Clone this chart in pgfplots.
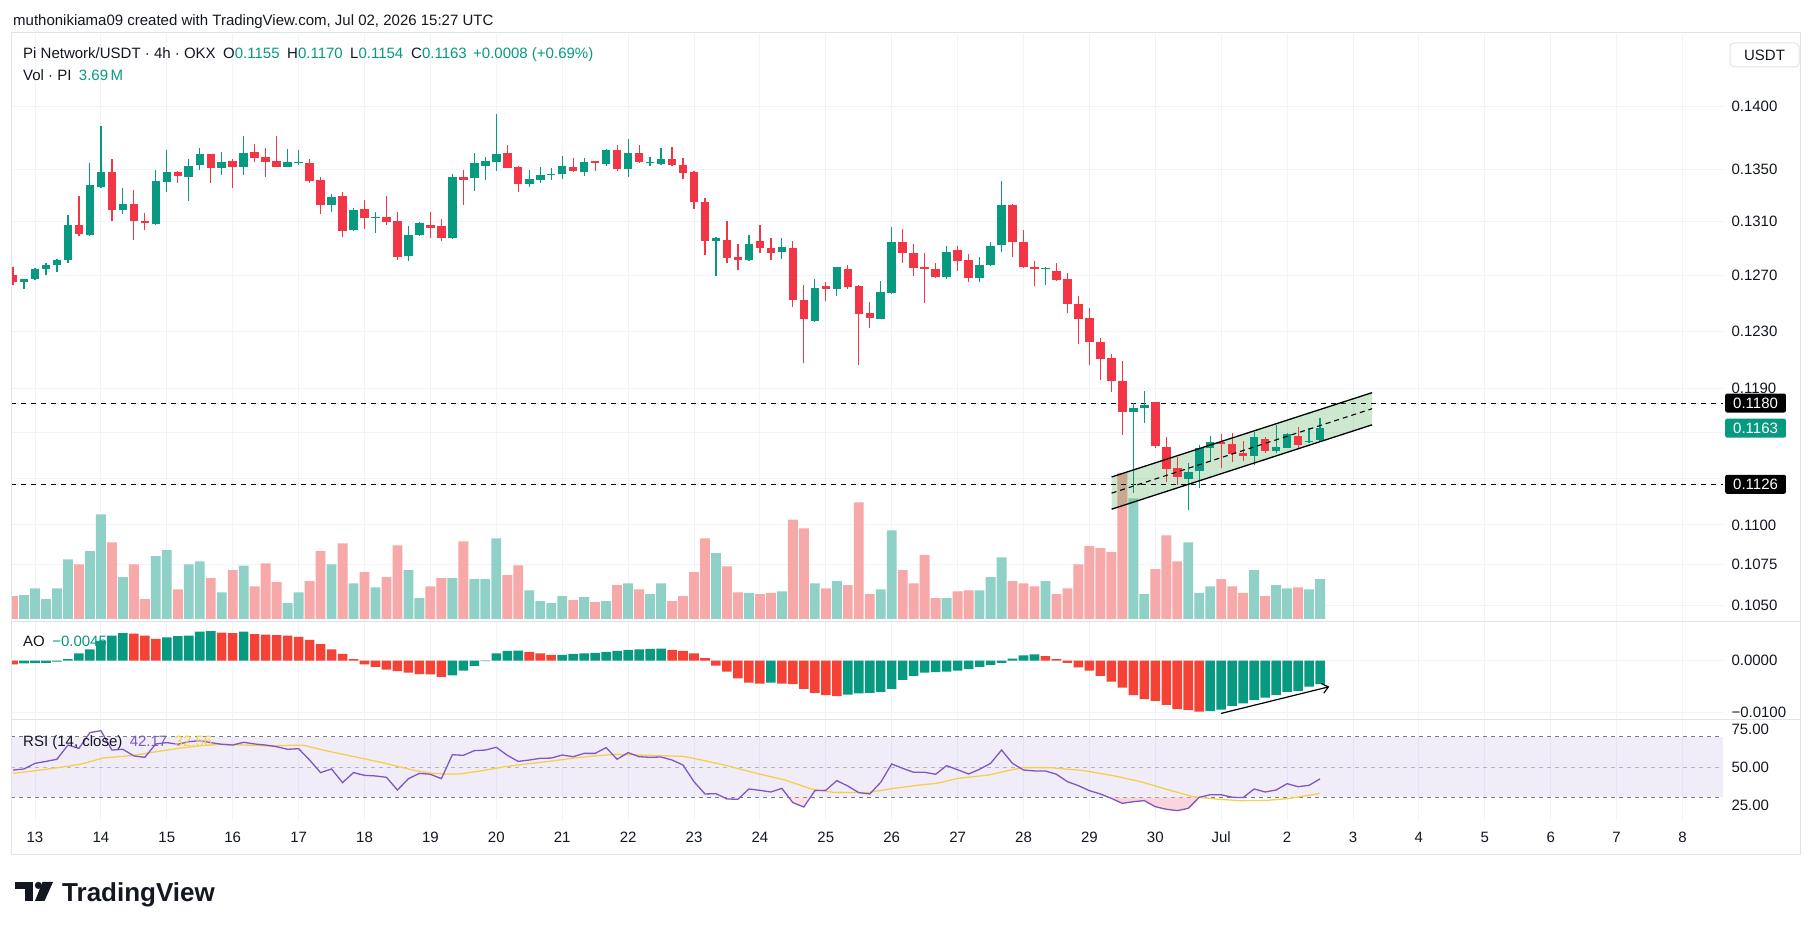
\documentclass[border=0pt]{standalone}
\usepackage{fontspec}
\setmainfont{Liberation Sans}
\usepackage{pgfplots}
\pgfplotsset{compat=1.18}
\usetikzlibrary{arrows.meta}
\definecolor{tvtext}{HTML}{131722}
\definecolor{tvteal}{HTML}{089981}
\definecolor{tvred}{HTML}{F23645}
\definecolor{aored}{HTML}{F44336}
\definecolor{volteal}{HTML}{8FD1C7}
\definecolor{volred}{HTML}{F7A8A8}
\definecolor{tvgrid}{HTML}{F0F3FA}
\definecolor{tvborder}{HTML}{E0E3EB}
\definecolor{rsipurple}{HTML}{7E57C2}
\definecolor{rsima}{HTML}{F5CF4E}
\definecolor{rsidash}{HTML}{787B86}
\definecolor{chanfill}{HTML}{4CAF50}
\definecolor{rsipink}{HTML}{F7C6CC}
\newcommand{\fs}{\fontsize{15bp}{18bp}\selectfont}
\pgfplotsset{
  tvbase/.style={scale only axis, width=1712bp, xmin=12.6358, xmax=38.6146,
    axis line style={draw=none}, major tick length=0pt, minor tick num=0,
    tick style={draw=none}, scaled y ticks=false, scaled x ticks=false},
  tvlab/.style={font=\fs, text=tvtext},
}
\begin{document}
\begin{tikzpicture}
\useasboundingbox (0,0) rectangle (1814bp,930bp);
\fill[white] (0,0) rectangle (1814bp,930bp);

% ---------- main pane: grid + price scale ----------
\begin{axis}[tvbase, at={(11bp,309bp)}, anchor=south west, height=587bp,
  ymode=log, ymin=0.10407, ymax=0.14597,
  xtick={13,...,38}, xticklabel=\empty,
  ytick={0.105,0.1075,0.11,0.113,0.116,0.119,0.123,0.127,0.131,0.135,0.14},
  yticklabels={0.1050,0.1075,0.1100,,,0.1190,0.1230,0.1270,0.1310,0.1350,0.1400},
  yticklabel pos=right,
  yticklabel style={tvlab, anchor=west, xshift=5bp},
  grid=major, grid style={draw=tvgrid, line width=1bp}]
\addplot[draw=none] coordinates {(13,0.12)};
\end{axis}

% ---------- volume overlay ----------
\begin{axis}[tvbase, at={(11bp,311bp)}, anchor=south west, height=200bp,
  ymin=0, ymax=18.54, xtick=\empty, ytick=\empty]
\addplot[ybar, bar width=0.15, bar shift=0pt, fill=volteal, draw=none] coordinates {
(12.833,2.22) (13,2.85) (13.167,1.84) (13.333,2.85) (13.5,5.53) (13.833,6.29) (14,9.69)
(14.333,3.88) (14.833,5.82) (15,6.38) (15.333,5.07) (15.5,5.35) (15.833,2.47) (16.167,4.94)
(16.833,1.47) (17,2.47) (17.5,5.07) (17.833,3.31) (18.167,2.94) (18.667,4.53) (18.833,1.94)
(19.333,3.78) (19.667,3.69) (19.833,3.69) (20,7.47) (20.5,2.66) (20.667,1.66) (20.833,1.47)
(21,2.13) (21.333,2.03) (21.667,1.66) (22,3.31) (22.333,2.31) (22.5,3.31) (23.333,6.10)
(23.833,2.41) (24.333,2.56) (24.833,3.31) (25.167,3.50) (25.833,2.75) (26,8.22) (26.833,1.94)
(27.333,2.66) (27.5,3.88) (27.667,5.72) (28.333,3.50) (29.667,11.19) (29.833,2.31) (30.5,7.10)
(30.667,2.41) (30.833,3.03) (31.5,4.53) (31.833,3.13) (32,2.85) (32.333,2.75) (32.5,3.69)};
\addplot[ybar, bar width=0.15, bar shift=0pt, fill=volred, draw=none] coordinates {
(12.667,2.13) (13.667,5.07) (14.167,7.10) (14.5,5.07) (14.667,1.84) (15.167,2.75) (15.667,3.78)
(16,4.53) (16.333,3.03) (16.5,5.16) (16.667,3.41) (17.167,3.50) (17.333,6.29) (17.667,7.00)
(18,4.35) (18.333,3.88) (18.5,6.82) (19,3.03) (19.167,3.78) (19.5,7.19) (20.167,4.07)
(20.333,4.97) (21.167,1.75) (21.5,1.56) (21.833,3.13) (22.167,2.75) (22.667,1.66) (22.833,2.13)
(23,4.35) (23.167,7.47) (23.5,4.88) (23.667,2.47) (24,2.31) (24.167,2.41) (24.5,9.22)
(24.667,8.41) (25,2.85) (25.333,3.13) (25.5,10.82) (25.667,2.31) (26.167,4.53) (26.333,3.31)
(26.5,5.91) (26.667,1.94) (27,2.56) (27.167,2.66) (27.833,3.50) (28,3.31) (28.167,3.03)
(28.5,2.31) (28.667,2.85) (28.833,5.07) (29,6.75) (29.167,6.57) (29.333,6.19) (29.5,13.54)
(30,4.63) (30.167,7.75) (30.333,5.35) (31,3.69) (31.167,3.03) (31.333,2.41) (31.667,2.13)
(32.167,2.94)};
\end{axis}

% ---------- main pane: candles, channel, levels ----------
\begin{axis}[tvbase, at={(11bp,309bp)}, anchor=south west, height=587bp,
  ymode=log, ymin=0.10407, ymax=0.14597, xtick=\empty, ytick=\empty,
  unbounded coords=jump]
\addplot[fill=chanfill, fill opacity=0.28, draw=none] coordinates {
(29.337,0.11308) (33.29,0.11871) (33.29,0.11653) (29.337,0.11100)} -- cycle;
\addplot[black, line width=1.1bp, dash pattern=on 5bp off 5bp] coordinates {(12.6358,0.1180) (38.6146,0.1180)};
\addplot[black, line width=1.1bp, dash pattern=on 5bp off 5bp] coordinates {(12.6358,0.1126) (38.6146,0.1126)};
% green wicks
\addplot[tvteal, line width=1.2bp] coordinates {
(12.833,0.12604) (12.833,0.12678) (12.833,nan)
(13,0.12671) (13,0.12756) (13,nan)
(13.167,0.12702) (13.167,0.12789) (13.167,nan)
(13.333,0.12724) (13.333,0.12818) (13.333,nan)
(13.5,0.12791) (13.5,0.13153) (13.5,nan)
(13.833,0.12990) (13.833,0.13552) (13.833,nan)
(14,0.13360) (14,0.13843) (14,nan)
(14.333,0.13156) (14.333,0.13359) (14.333,nan)
(14.833,0.13072) (14.833,0.13494) (14.833,nan)
(15,0.13323) (15,0.13652) (15,nan)
(15.333,0.13258) (15.333,0.13581) (15.333,nan)
(15.5,0.13499) (15.5,0.13668) (15.5,nan)
(15.833,0.13460) (15.833,0.13636) (15.833,nan)
(16.167,0.13460) (16.167,0.13763) (16.167,nan)
(16.833,0.13520) (16.833,0.13660) (16.833,nan)
(17,0.13533) (17,0.13652) (17,nan)
(17.5,0.13171) (17.5,0.13312) (17.5,nan)
(17.833,0.13034) (17.833,0.13204) (17.833,nan)
(18.167,0.13018) (18.167,0.13176) (18.167,nan)
(18.667,0.12806) (18.667,0.13067) (18.667,nan)
(18.833,0.12990) (18.833,0.13097) (18.833,nan)
(19.333,0.12972) (19.333,0.13465) (19.333,nan)
(19.667,0.13331) (19.667,0.13628) (19.667,nan)
(19.833,0.13421) (19.833,0.13597) (19.833,nan)
(20,0.13491) (20,0.13943) (20,nan)
(20.5,0.13362) (20.5,0.13497) (20.5,nan)
(20.667,0.13398) (20.667,0.13520) (20.667,nan)
(20.833,0.13421) (20.833,0.13515) (20.833,nan)
(21,0.13429) (21,0.13605) (21,nan)
(21.333,0.13452) (21.333,0.13589) (21.333,nan)
(21.667,0.13531) (21.667,0.13660) (21.667,nan)
(22,0.13445) (22,0.13739) (22,nan)
(22.333,0.13526) (22.333,0.13597) (22.333,nan)
(22.5,0.13539) (22.5,0.13668) (22.5,nan)
(23.333,0.12700) (23.333,0.12988) (23.333,nan)
(23.833,0.12810) (23.833,0.13003) (23.833,nan)
(24.333,0.12821) (24.333,0.12975) (24.333,nan)
(24.833,0.12365) (24.833,0.12678) (24.833,nan)
(25.167,0.12550) (25.167,0.12762) (25.167,nan)
(25.833,0.12383) (25.833,0.12658) (25.833,nan)
(26,0.12569) (26,0.13062) (26,nan)
(26.833,0.12673) (26.833,0.12918) (26.833,nan)
(27.333,0.12655) (27.333,0.12833) (27.333,nan)
(27.5,0.12771) (27.5,0.12951) (27.5,nan)
(27.667,0.12871) (27.667,0.13411) (27.667,nan)
(28.333,0.12631) (28.333,0.12766) (28.333,nan)
(29.667,0.11203) (29.667,0.11800) (29.667,nan)
(29.833,0.11662) (29.833,0.11885) (29.833,nan)
(30.5,0.11095) (30.5,0.11400) (30.5,nan)
(30.667,0.11238) (30.667,0.11520) (30.667,nan)
(30.833,0.11405) (30.833,0.11578) (30.833,nan)
(31.5,0.11385) (31.5,0.11605) (31.5,nan)
(31.833,0.11465) (31.833,0.11653) (31.833,nan)
(32,0.11498) (32,0.11599) (32,nan)
(32.333,0.11534) (32.333,0.11635) (32.333,nan)
(32.5,0.11540) (32.5,0.11700)};
% green bodies
\addplot[tvteal, line width=8.5bp] coordinates {
(12.833,0.12653) (12.833,0.12678) (12.833,nan)
(13,0.12673) (13,0.12751) (13,nan)
(13.167,0.12746) (13.167,0.12781) (13.167,nan)
(13.333,0.12774) (13.333,0.12811) (13.333,nan)
(13.5,0.12813) (13.5,0.13077) (13.5,nan)
(13.833,0.13003) (13.833,0.13380) (13.833,nan)
(14,0.13362) (14,0.13481) (14,nan)
(14.333,0.13187) (14.333,0.13235) (14.333,nan)
(14.833,0.13084) (14.833,0.13411) (14.833,nan)
(15,0.13403) (15,0.13481) (15,nan)
(15.333,0.13445) (15.333,0.13528) (15.333,nan)
(15.5,0.13533) (15.5,0.13621) (15.5,nan)
(15.833,0.13515) (15.833,0.13557) (15.833,nan)
(16.167,0.13523) (16.167,0.13628) (16.167,nan)
(16.833,0.13523) (16.833,0.13557) (16.833,nan)
(17,0.13552) (17,0.13560) (17,nan)
(17.5,0.13230) (17.5,0.13289) (17.5,nan)
(17.833,0.13039) (17.833,0.13192) (17.833,nan)
(18.167,0.13125) (18.167,0.13133) (18.167,nan)
(18.667,0.12841) (18.667,0.13003) (18.667,nan)
(18.833,0.13003) (18.833,0.13092) (18.833,nan)
(19.333,0.12975) (19.333,0.13442) (19.333,nan)
(19.667,0.13434) (19.667,0.13552) (19.667,nan)
(19.833,0.13531) (19.833,0.13565) (19.833,nan)
(20,0.13562) (20,0.13621) (20,nan)
(20.5,0.13390) (20.5,0.13426) (20.5,nan)
(20.667,0.13421) (20.667,0.13458) (20.667,nan)
(20.833,0.13455) (20.833,0.13463) (20.833,nan)
(21,0.13463) (21,0.13528) (21,nan)
(21.333,0.13484) (21.333,0.13560) (21.333,nan)
(21.667,0.13547) (21.667,0.13652) (21.667,nan)
(22,0.13507) (22,0.13628) (22,nan)
(22.333,0.13554) (22.333,0.13562) (22.333,nan)
(22.5,0.13547) (22.5,0.13581) (22.5,nan)
(23.333,0.12953) (23.333,0.12975) (23.333,nan)
(23.833,0.12813) (23.833,0.12936) (23.833,nan)
(24.333,0.12871) (24.333,0.12908) (24.333,nan)
(24.833,0.12369) (24.833,0.12609) (24.833,nan)
(25.167,0.12601) (25.167,0.12759) (25.167,nan)
(25.833,0.12386) (25.833,0.12577) (25.833,nan)
(26,0.12572) (26,0.12951) (26,nan)
(26.833,0.12692) (26.833,0.12876) (26.833,nan)
(27.333,0.12680) (27.333,0.12781) (27.333,nan)
(27.5,0.12774) (27.5,0.12921) (27.5,nan)
(27.667,0.12923) (27.667,0.13228) (27.667,nan)
(28.333,0.12749) (28.333,0.12756) (28.333,nan)
(29.667,0.11739) (29.667,0.11766) (29.667,nan)
(29.833,0.11766) (29.833,0.11788) (29.833,nan)
(30.5,0.11295) (30.5,0.11343) (30.5,nan)
(30.667,0.11345) (30.667,0.11498) (30.667,nan)
(30.833,0.11496) (30.833,0.11538) (30.833,nan)
(31.5,0.11445) (31.5,0.11572) (31.5,nan)
(31.833,0.11478) (31.833,0.11505) (31.833,nan)
(32,0.11500) (32,0.11592) (32,nan)
(32.333,0.11536) (32.333,0.11545) (32.333,nan)
(32.5,0.11550) (32.5,0.11630)};
% red wicks
\addplot[tvred, line width=1.2bp] coordinates {
(12.667,0.12628) (12.667,0.12761) (12.667,nan)
(13.667,0.12990) (13.667,0.13297) (13.667,nan)
(14.167,0.13102) (14.167,0.13581) (14.167,nan)
(14.5,0.12961) (14.5,0.13343) (14.5,nan)
(14.667,0.13041) (14.667,0.13169) (14.667,nan)
(15.167,0.13398) (15.167,0.13489) (15.167,nan)
(15.667,0.13398) (15.667,0.13624) (15.667,nan)
(16,0.13354) (16,0.13586) (16,nan)
(16.333,0.13560) (16.333,0.13700) (16.333,nan)
(16.5,0.13445) (16.5,0.13668) (16.5,nan)
(16.667,0.13520) (16.667,0.13768) (16.667,nan)
(17.167,0.13398) (17.167,0.13586) (17.167,nan)
(17.333,0.13156) (17.333,0.13442) (17.333,nan)
(17.667,0.12983) (17.667,0.13328) (17.667,nan)
(18,0.13049) (18,0.13266) (18,nan)
(18.333,0.13077) (18.333,0.13297) (18.333,nan)
(18.5,0.12816) (18.5,0.13176) (18.5,nan)
(19,0.12980) (19,0.13176) (19,nan)
(19.167,0.12953) (19.167,0.13120) (19.167,nan)
(19.5,0.13230) (19.5,0.13494) (19.5,nan)
(20.167,0.13512) (20.167,0.13692) (20.167,nan)
(20.333,0.13323) (20.333,0.13526) (20.333,nan)
(21.167,0.13484) (21.167,0.13589) (21.167,nan)
(21.5,0.13491) (21.5,0.13568) (21.5,nan)
(21.833,0.13491) (21.833,0.13692) (21.833,nan)
(22.167,0.13552) (22.167,0.13692) (22.167,nan)
(22.667,0.13526) (22.667,0.13676) (22.667,nan)
(22.833,0.13429) (22.833,0.13589) (22.833,nan)
(23,0.13199) (23,0.13489) (23,nan)
(23.167,0.12848) (23.167,0.13282) (23.167,nan)
(23.5,0.12791) (23.5,0.13102) (23.5,nan)
(23.667,0.12739) (23.667,0.12931) (23.667,nan)
(24,0.12863) (24,0.13077) (24,nan)
(24.167,0.12813) (24.167,0.12975) (24.167,nan)
(24.5,0.12473) (24.5,0.12953) (24.5,nan)
(24.667,0.12073) (24.667,0.12628) (24.667,nan)
(25,0.12514) (25,0.12655) (25,nan)
(25.333,0.12601) (25.333,0.12779) (25.333,nan)
(25.5,0.12064) (25.5,0.12631) (25.5,nan)
(25.667,0.12322) (25.667,0.12509) (25.667,nan)
(26.167,0.12791) (26.167,0.13046) (26.167,nan)
(26.333,0.12700) (26.333,0.12936) (26.333,nan)
(26.5,0.12499) (26.5,0.12868) (26.5,nan)
(26.667,0.12680) (26.667,0.12789) (26.667,nan)
(27,0.12732) (27,0.12918) (27,nan)
(27.167,0.12653) (27.167,0.12861) (27.167,nan)
(27.833,0.12836) (27.833,0.13235) (27.833,nan)
(28,0.12754) (28,0.13039) (28,nan)
(28.167,0.12623) (28.167,0.12804) (28.167,nan)
(28.5,0.12658) (28.5,0.12789) (28.5,nan)
(28.667,0.12429) (28.667,0.12722) (28.667,nan)
(28.833,0.12212) (28.833,0.12548) (28.833,nan)
(29,0.12064) (29,0.12463) (29,nan)
(29.167,0.11959) (29.167,0.12250) (29.167,nan)
(29.333,0.11874) (29.333,0.12139) (29.333,nan)
(29.5,0.11585) (29.5,0.12092) (29.5,nan)
(30,0.11500) (30,0.11806) (30,nan)
(30.167,0.11275) (30.167,0.11574) (30.167,nan)
(30.333,0.11258) (30.333,0.11440) (30.333,nan)
(31,0.11365) (31,0.11592) (31,nan)
(31.167,0.11405) (31.167,0.11599) (31.167,nan)
(31.333,0.11412) (31.333,0.11545) (31.333,nan)
(31.667,0.11465) (31.667,0.11572) (31.667,nan)
(32.167,0.11500) (32.167,0.11639)};
% red bodies
\addplot[tvred, line width=8.5bp] coordinates {
(12.667,0.12707) (12.667,0.12653) (12.667,nan)
(13.667,0.13077) (13.667,0.13006) (13.667,nan)
(14.167,0.13481) (14.167,0.13187) (14.167,nan)
(14.5,0.13235) (14.5,0.13102) (14.5,nan)
(14.667,0.13107) (14.667,0.13090) (14.667,nan)
(15.167,0.13481) (15.167,0.13447) (15.167,nan)
(15.667,0.13621) (15.667,0.13515) (15.667,nan)
(16,0.13565) (16,0.13520) (16,nan)
(16.333,0.13634) (16.333,0.13594) (16.333,nan)
(16.5,0.13597) (16.5,0.13562) (16.5,nan)
(16.667,0.13565) (16.667,0.13523) (16.667,nan)
(17.167,0.13552) (17.167,0.13411) (17.167,nan)
(17.333,0.13419) (17.333,0.13230) (17.333,nan)
(17.667,0.13297) (17.667,0.13034) (17.667,nan)
(18,0.13197) (18,0.13125) (18,nan)
(18.333,0.13138) (18.333,0.13095) (18.333,nan)
(18.5,0.13102) (18.5,0.12836) (18.5,nan)
(19,0.13077) (19,0.13056) (19,nan)
(19.167,0.13069) (19.167,0.12975) (19.167,nan)
(19.5,0.13442) (19.5,0.13421) (19.5,nan)
(20.167,0.13628) (20.167,0.13515) (20.167,nan)
(20.333,0.13520) (20.333,0.13390) (20.333,nan)
(21.167,0.13520) (21.167,0.13491) (21.167,nan)
(21.5,0.13565) (21.5,0.13552) (21.5,nan)
(21.833,0.13652) (21.833,0.13507) (21.833,nan)
(22.167,0.13628) (22.167,0.13560) (22.167,nan)
(22.667,0.13581) (22.667,0.13533) (22.667,nan)
(22.833,0.13539) (22.833,0.13476) (22.833,nan)
(23,0.13481) (23,0.13248) (23,nan)
(23.167,0.13251) (23.167,0.12953) (23.167,nan)
(23.5,0.12961) (23.5,0.12828) (23.5,nan)
(23.667,0.12836) (23.667,0.12813) (23.667,nan)
(24,0.12953) (24,0.12901) (24,nan)
(24.167,0.12901) (24.167,0.12863) (24.167,nan)
(24.5,0.12901) (24.5,0.12521) (24.5,nan)
(24.667,0.12521) (24.667,0.12386) (24.667,nan)
(25,0.12621) (25,0.12604) (25,nan)
(25.333,0.12751) (25.333,0.12616) (25.333,nan)
(25.5,0.12623) (25.5,0.12422) (25.5,nan)
(25.667,0.12427) (25.667,0.12394) (25.667,nan)
(26.167,0.12951) (26.167,0.12863) (26.167,nan)
(26.333,0.12868) (26.333,0.12754) (26.333,nan)
(26.5,0.12759) (26.5,0.12746) (26.5,nan)
(26.667,0.12751) (26.667,0.12692) (26.667,nan)
(27,0.12891) (27,0.12806) (27,nan)
(27.167,0.12811) (27.167,0.12680) (27.167,nan)
(27.833,0.13228) (27.833,0.12946) (27.833,nan)
(28,0.12951) (28,0.12759) (28,nan)
(28.167,0.12766) (28.167,0.12746) (28.167,nan)
(28.5,0.12737) (28.5,0.12666) (28.5,nan)
(28.667,0.12678) (28.667,0.12492) (28.667,nan)
(28.833,0.12497) (28.833,0.12386) (28.833,nan)
(29,0.12391) (29,0.12220) (29,nan)
(29.167,0.12222) (29.167,0.12106) (29.167,nan)
(29.333,0.12111) (29.333,0.11950) (29.333,nan)
(29.5,0.11952) (29.5,0.11739) (29.5,nan)
(30,0.11804) (30,0.11514) (30,nan)
(30.167,0.11507) (30.167,0.11358) (30.167,nan)
(30.333,0.11369) (30.333,0.11310) (30.333,nan)
(31,0.11538) (31,0.11523) (31,nan)
(31.167,0.11525) (31.167,0.11458) (31.167,nan)
(31.333,0.11463) (31.333,0.11445) (31.333,nan)
(31.667,0.11558) (31.667,0.11478) (31.667,nan)
(32.167,0.11578) (32.167,0.11520)};
% channel lines
\addplot[black, line width=1.3bp] coordinates {(29.337,0.11308) (33.29,0.11871)};
\addplot[black, line width=1.3bp] coordinates {(29.337,0.11100) (33.29,0.11653)};
\addplot[black, line width=1.1bp, dash pattern=on 5bp off 4bp] coordinates {(29.337,0.11203) (33.29,0.11762)};
\coordinate (l1180) at (axis cs:38.6146,0.1180);
\coordinate (l1163) at (axis cs:38.6146,0.1163);
\coordinate (l1126) at (axis cs:38.6146,0.1126);
\end{axis}

% ---------- AO pane ----------
\begin{axis}[tvbase, at={(11bp,210bp)}, anchor=south west, height=98bp,
  ymin=-0.0114, ymax=0.00744,
  xtick={13,...,38}, xticklabel=\empty,
  ytick={-0.01,0}, yticklabels={−0.0100,0.0000},
  yticklabel pos=right,
  yticklabel style={tvlab, anchor=west, xshift=5bp},
  grid=major, grid style={draw=tvgrid, line width=1bp}]
\addplot[ybar, bar width=0.145, bar shift=0pt, fill=tvteal, draw=none] coordinates {
(12.833,-0.0005) (13,-0.00045) (13.167,-0.0004) (13.333,-0.0002) (13.5,0.0003) (13.667,0.0014)
(13.833,0.0022) (14,0.0038) (14.167,0.0048) (14.333,0.0053) (15,0.0045) (15.167,0.0047)
(15.333,0.0048) (15.5,0.0056) (15.667,0.0057) (16.167,0.0056) (19.333,-0.0028) (19.5,-0.0019)
(19.667,-0.0010) (19.833,-0.0001) (20,0.0014) (20.167,0.0019) (20.333,0.00192) (21,0.00112)
(21.167,0.0013) (21.333,0.0014) (21.5,0.0015) (21.667,0.0017) (21.833,0.0019) (22,0.0021)
(22.167,0.0022) (22.333,0.00225) (22.5,0.0023) (24.167,-0.0042) (25.333,-0.0065) (25.5,-0.0063)
(25.667,-0.0062) (25.833,-0.0060) (26,-0.0054) (26.167,-0.0037) (26.333,-0.0029) (26.5,-0.0023)
(26.667,-0.0022) (26.833,-0.0021) (27,-0.0019) (27.167,-0.0016) (27.333,-0.0012) (27.5,-0.0008)
(27.667,-0.0004) (27.833,0.0004) (28,0.0010) (28.167,0.0012) (30.833,-0.0097) (31,-0.0094)
(31.167,-0.0087) (31.333,-0.0082) (31.5,-0.0076) (31.667,-0.0071) (31.833,-0.0066) (32,-0.0060)
(32.167,-0.0058) (32.333,-0.0050) (32.5,-0.0045)};
\addplot[ybar, bar width=0.145, bar shift=0pt, fill=aored, draw=none] coordinates {
(12.667,-0.0007) (14.5,0.0052) (14.667,0.0048) (14.833,0.0042) (15.833,0.0054) (16,0.0053)
(16.333,0.0051) (16.5,0.0050) (16.667,0.0049) (16.833,0.0048) (17,0.0046) (17.167,0.0040)
(17.333,0.0032) (17.5,0.0022) (17.667,0.0013) (17.833,0.0003) (18,-0.0007) (18.167,-0.0012)
(18.333,-0.0017) (18.5,-0.0020) (18.667,-0.0023) (18.833,-0.0026) (19,-0.00265) (19.167,-0.0031)
(20.5,0.0017) (20.667,0.0014) (20.833,0.0011) (22.667,0.0021) (22.833,0.0019) (23,0.0014)
(23.167,0.0005) (23.333,-0.00096) (23.5,-0.0021) (23.667,-0.0034) (23.833,-0.0042) (24,-0.0044)
(24.333,-0.0044) (24.5,-0.0045) (24.667,-0.0054) (24.833,-0.0062) (25,-0.0066) (25.167,-0.0068)
(28.333,0.0009) (28.5,0.0003) (28.667,-0.0004) (28.833,-0.0013) (29,-0.0019) (29.167,-0.0029)
(29.333,-0.0040) (29.5,-0.0052) (29.667,-0.0066) (29.833,-0.0074) (30,-0.0077) (30.167,-0.0085)
(30.333,-0.0093) (30.5,-0.0095) (30.667,-0.0098)};
\addplot[black, line width=1.2bp, -{Straight Barb[length=6bp,width=10bp]}] coordinates {(31.0,-0.01013) (32.64,-0.0050)};
\end{axis}

% ---------- RSI pane ----------
\begin{axis}[tvbase, at={(11bp,110bp)}, anchor=south west, height=100bp,
  ymin=15.02, ymax=81.02,
  xtick={13,...,38},
  xticklabels={13,14,15,16,17,18,19,20,21,22,23,24,25,26,27,28,29,30,Jul,2,3,4,5,6,7,8},
  xticklabel style={tvlab, anchor=center, yshift=-17bp},
  ytick={25,50,75}, yticklabels={25.00,50.00,75.00},
  yticklabel pos=right,
  yticklabel style={tvlab, anchor=west, xshift=5bp},
  xmajorgrids, grid style={draw=tvgrid, line width=1bp}]
\addplot[fill=rsipurple, fill opacity=0.1, draw=none] coordinates {(12.6358,30) (38.6146,30) (38.6146,70) (12.6358,70)} -- cycle;
\addplot[rsidash, line width=1bp, dash pattern=on 4bp off 4bp] coordinates {(12.6358,70) (38.6146,70)};
\addplot[rsidash!55, line width=1bp, dash pattern=on 4bp off 4bp] coordinates {(12.6358,50) (38.6146,50)};
\addplot[rsidash, line width=1bp, dash pattern=on 4bp off 4bp] coordinates {(12.6358,30) (38.6146,30)};
\addplot[fill=rsipink, fill opacity=0.35, draw=none] coordinates {(23.447,30) (23.5,28.9) (23.667,28.7) (23.699,30)} -- cycle;
\addplot[fill=rsipink, fill opacity=0.5, draw=none] coordinates {(24.438,30) (24.5,26.5) (24.667,23.6) (24.766,30)} -- cycle;
\addplot[fill=rsipink, fill opacity=0.7, draw=none] coordinates {(29.293,30) (29.333,29.3) (29.5,26.0) (29.667,27.1) (29.833,27.8) (30,23.8) (30.167,22.1) (30.333,21.2) (30.5,22.7) (30.667,30)} -- cycle;
\addplot[rsima, line width=1.3bp] coordinates {
(12.67,45.8) (13.01,47.6) (13.35,49.6) (13.69,51.8) (14.03,55.9) (14.50,57.7) (14.84,60.1)
(15.18,62.3) (15.52,64.1) (15.86,65.0) (16.20,64.5) (16.53,63.9) (16.87,64.3) (17.08,64.3)
(17.41,60.8) (17.89,56.4) (18.36,52.0) (18.77,47.6) (19.04,45.8) (19.24,45.4) (19.45,45.4)
(19.79,47.6) (20.13,50.2) (20.46,52.0) (20.80,53.7) (21.14,55.7) (21.48,57.3) (21.82,58.4)
(22.16,57.9) (22.50,57.5) (22.83,57.0) (23.0,55.7) (23.46,51.3) (23.99,45.4) (24.38,41.4)
(24.78,35.5) (25.11,33.3) (25.63,33.1) (26.03,35.9) (26.42,38.1) (26.68,39.2) (27.01,42.5)
(27.47,44.7) (27.80,48.0) (28.00,49.6) (28.40,49.6) (28.92,47.6) (29.38,44.1) (29.78,40.3)
(30.17,35.3) (30.57,30.4) (30.96,28.7) (31.29,27.8) (31.69,28.0) (32.01,29.1) (32.5,32.56)};
\addplot[rsipurple, line width=1.3bp] coordinates {
(12.667,48.0) (12.833,48.7) (13,52.4) (13.167,53.7) (13.333,55.1) (13.5,64.5) (13.667,62.3)
(13.833,72.7) (14,74.0) (14.167,61.2) (14.333,61.7) (14.5,57.3) (14.667,56.4) (14.833,65.2)
(15,66.1) (15.167,65.0) (15.333,66.7) (15.5,67.4) (15.667,66.1) (15.833,65.0) (16,64.5)
(16.167,66.3) (16.333,65.2) (16.5,64.5) (16.667,63.4) (16.833,61.7) (17,62.1) (17.167,54.6)
(17.333,46.3) (17.5,48.7) (17.667,39.7) (17.833,46.3) (18,44.5) (18.167,44.1) (18.333,43.2)
(18.5,34.8) (18.667,42.3) (18.833,45.8) (19,45.2) (19.167,42.3) (19.333,58.1) (19.5,57.7)
(19.667,60.8) (19.833,61.2) (20,63.0) (20.167,57.7) (20.333,53.7) (20.5,54.6) (20.667,55.7)
(20.833,55.9) (21,57.9) (21.167,56.8) (21.333,59.0) (21.5,59.0) (21.667,62.8) (21.833,55.1)
(22,59.5) (22.167,56.8) (22.333,56.4) (22.5,56.6) (22.667,54.6) (22.833,51.3) (23,40.3)
(23.167,32.2) (23.333,32.4) (23.5,28.9) (23.667,28.7) (23.833,35.5) (24,34.6) (24.167,33.5)
(24.333,35.9) (24.5,26.5) (24.667,23.6) (24.833,34.4) (25,34.6) (25.167,41.0) (25.333,37.5)
(25.5,33.1) (25.667,32.2) (25.833,39.9) (26,52.0) (26.167,49.1) (26.333,46.5) (26.5,46.5)
(26.667,45.2) (26.833,50.9) (27,48.2) (27.167,45.4) (27.333,48.5) (27.5,52.4) (27.667,61.2)
(27.833,52.4) (28,48.0) (28.167,47.4) (28.333,47.4) (28.5,45.2) (28.667,40.3) (28.833,37.7)
(29,34.4) (29.167,32.2) (29.333,29.3) (29.5,26.0) (29.667,27.1) (29.833,27.8) (30,23.8)
(30.167,22.1) (30.333,21.2) (30.5,22.7) (30.667,30.0) (30.833,31.7) (31,31.7) (31.167,30.0)
(31.333,29.8) (31.5,35.5) (31.667,33.5) (31.833,34.8) (32,39.0) (32.167,37.0) (32.333,37.9)
(32.5,42.17)};
\end{axis}

% ---------- frame and separators ----------
\draw[tvborder, line width=1bp] (11bp,75bp) rectangle (1800bp,897bp);
\draw[tvborder, line width=1bp] (11bp,308.5bp) -- (1800bp,308.5bp);
\draw[tvborder, line width=1bp] (11bp,210bp) -- (1800bp,210bp);

% ---------- price labels ----------
\node[anchor=west, fill=black, text=white, font=\fs, inner xsep=8bp, inner ysep=0pt,
  minimum height=19bp, rounded corners=2bp, xshift=2bp] at (l1180) {0.1180};
\node[anchor=west, fill=tvteal, text=white, font=\fs, inner xsep=8bp, inner ysep=0pt,
  minimum height=19bp, rounded corners=2bp, xshift=2bp] at (l1163) {0.1163};
\node[anchor=west, fill=black, text=white, font=\fs, inner xsep=8bp, inner ysep=0pt,
  minimum height=19bp, rounded corners=2bp, xshift=2bp] at (l1126) {0.1126};
\node[draw=tvborder, line width=1bp, rounded corners=4bp, minimum width=69bp, minimum height=24bp,
  inner sep=0pt, font=\fs, text=tvtext] at (1764.5bp,875bp) {USDT};

% ---------- header ----------
\node[anchor=base west, inner sep=0pt, font=\fs, text=tvtext] at (13bp,904bp)
  {muthonikiama09 created with TradingView.com, Jul 02, 2026 15:27 UTC};
\node[anchor=base west, inner sep=0pt, font=\fs, text=tvtext] at (23bp,871bp) {Pi Network/USDT · 4h · OKX};
\node[anchor=base west, inner sep=0pt, font=\fs, text=tvtext] at (223bp,871bp) {O\textcolor{tvteal}{0.1155}};
\node[anchor=base west, inner sep=0pt, font=\fs, text=tvtext] at (287bp,871bp) {H\textcolor{tvteal}{0.1170}};
\node[anchor=base west, inner sep=0pt, font=\fs, text=tvtext] at (350bp,871bp) {L\textcolor{tvteal}{0.1154}};
\node[anchor=base west, inner sep=0pt, font=\fs, text=tvtext] at (411bp,871bp) {C\textcolor{tvteal}{0.1163}};
\node[anchor=base west, inner sep=0pt, font=\fs, text=tvteal] at (473bp,871bp) {+0.0008 (+0.69\%)};
\node[anchor=base west, inner sep=0pt, font=\fs, text=tvtext] (vol) at (23bp,849bp) {Vol · PI};
\node[anchor=base west, inner sep=0pt, font=\fs, text=tvteal] at ([xshift=7bp]vol.base east) {3.69\,M};

% ---------- pane legends ----------
\node[anchor=base west, inner sep=0pt, font=\fs, text=tvtext] (ao) at (23bp,283bp) {AO};
\node[anchor=base west, inner sep=0pt, font=\fs, text=tvteal] at ([xshift=7bp]ao.base east) {−0.0045};
\node[anchor=base west, inner sep=0pt, font=\fs, text=tvtext] (rsi) at (23bp,183bp) {RSI (14, close)};
\node[anchor=base west, inner sep=0pt, font=\fs, text=rsipurple] (rv) at ([xshift=7bp]rsi.base east) {42.17};
\node[anchor=base west, inner sep=0pt, font=\fs, text=rsima] at ([xshift=7bp]rv.base east) {32.56};

% ---------- TradingView logo ----------
\fill[tvtext] (15bp,41bp) rectangle (33.3bp,48bp);
\fill[tvtext] (25bp,29bp) rectangle (33.3bp,41bp);
\fill[tvtext] (38.4bp,44.6bp) circle (3.6bp);
\fill[tvtext] (42.5bp,48bp) -- (53bp,48bp) -- (44.5bp,29bp) -- (35bp,29bp) -- cycle;
\node[anchor=base west, inner sep=0pt, text=tvtext, font=\fontsize{26bp}{30bp}\selectfont\bfseries] at (62bp,29bp) {TradingView};
\end{tikzpicture}
\end{document}
